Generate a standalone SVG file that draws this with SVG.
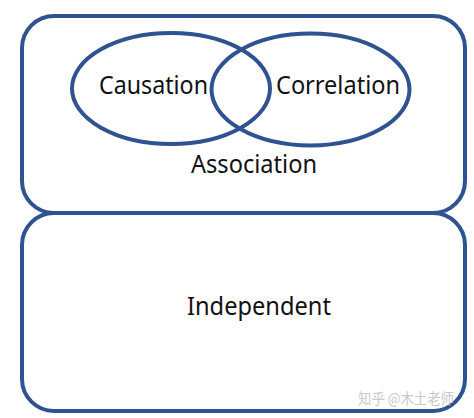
<svg xmlns="http://www.w3.org/2000/svg" width="474" height="418" viewBox="0 0 474 418">
<style>
.box{fill:none;stroke:#2F5290;stroke-width:4}
.lbl{font-family:"Noto Sans","Liberation Sans",sans-serif;font-size:25px;fill:#111;text-anchor:middle}
.wm{font-family:"Noto Sans CJK SC",sans-serif;font-size:15px;fill:#cacaca;text-anchor:middle}
</style>
<rect width="474" height="418" fill="#fff"/>
<g id="association">
<rect class="box" x="22" y="16" width="443" height="197" rx="32"/>
<text class="lbl" x="254" y="173" textLength="126" lengthAdjust="spacingAndGlyphs">Association</text>
</g>
<g id="independent">
<rect class="box" x="22" y="213" width="443" height="198" rx="32"/>
<text class="lbl" x="259" y="315" textLength="144" lengthAdjust="spacingAndGlyphs">Independent</text>
</g>
<g id="causation">
<ellipse class="box" cx="171" cy="88.5" rx="99" ry="55.5"/>
<text class="lbl" x="153.5" y="94" textLength="109" lengthAdjust="spacingAndGlyphs">Causation</text>
</g>
<g id="correlation">
<ellipse class="box" cx="310.5" cy="89.5" rx="99" ry="56"/>
<text class="lbl" x="338" y="94" textLength="124" lengthAdjust="spacingAndGlyphs">Correlation</text>
</g>
<g id="connectors"/>
<text class="wm" x="406" y="404" textLength="96" lengthAdjust="spacingAndGlyphs">知乎 @木土老师</text>
</svg>
